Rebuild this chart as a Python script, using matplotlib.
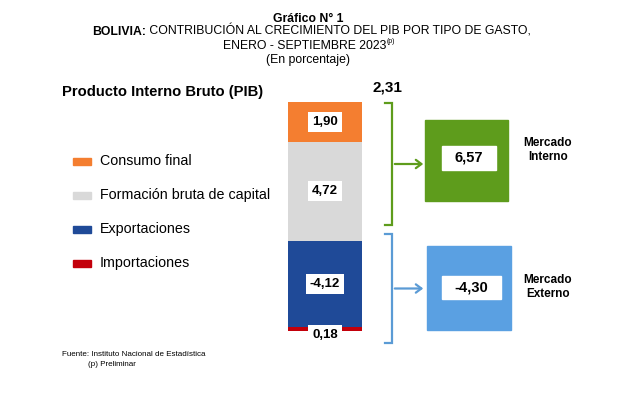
import matplotlib.pyplot as plt
from matplotlib.patches import Rectangle, FancyArrowPatch
import numpy as np

plt.rcParams['font.family'] = ['Liberation Sans', 'DejaVu Sans']

# data (contribution to GDP growth, %)
components = ["Importaciones", "Exportaciones", "Formación bruta de capital", "Consumo final"]
values = [0.18, -4.12, 4.72, 1.90]
colors = ["#C3000B", "#1F4A98", "#D9D9D9", "#F47E30"]
labels = ["0,18", "-4,12", "4,72", "1,90"]
pib_total = "2,31"
mercado_interno = "6,57"
mercado_externo = "-4,30"

W, H = 640, 395
fig = plt.figure(figsize=(W / 100, H / 100), dpi=100)

# overlay axes in pixel units for annotations
ov = fig.add_axes([0, 0, 1, 1])
ov.set_xlim(0, W)
ov.set_ylim(H, 0)
ov.axis("off")

# titles
tfs = 8.8
ov.text(308, 19, "Gráfico N° 1", ha="center", va="center", fontsize=tfs, fontweight="bold")
t1 = ov.text(92, 32, "BOLIVIA:", ha="left", va="center", fontsize=tfs, fontweight="bold")
ov.annotate(" CONTRIBUCIÓN AL CRECIMIENTO DEL PIB POR TIPO DE GASTO,", xy=(1, 0), xycoords=t1,
            ha="left", va="bottom", fontsize=tfs)
t3 = ov.text(305, 46, "ENERO - SEPTIEMBRE 2023", ha="center", va="center", fontsize=tfs)
ov.annotate("(p)", xy=(1, 0.55), xycoords=t3, ha="left", va="bottom", fontsize=5)
ov.text(308, 60, "(En porcentaje)", ha="center", va="center", fontsize=tfs)

ov.text(62, 92, "Producto Interno Bruto (PIB)", ha="left", va="center", fontsize=10.6, fontweight="bold")

# legend
leg_order = [3, 2, 1, 0]
for i, k in enumerate(leg_order):
    y = 161 + i * 34
    ov.add_patch(Rectangle((73, y - 3), 18, 7, color=colors[k]))
    ov.text(100, y, components[k], ha="left", va="center", fontsize=10.3)

# stacked bar
bx = fig.add_axes([288 / W, 1 - 331 / H, 74 / W, 229 / H])
mags = np.abs(values)
bottoms = np.concatenate([[0], np.cumsum(mags)[:-1]])
bx.bar(0, mags, bottom=bottoms, width=1, color=colors, edgecolor="none")
bx.set_xlim(-0.5, 0.5)
bx.set_ylim(0, mags.sum())
bx.axis("off")
box = dict(boxstyle="square,pad=0.3", fc="white", ec="none")
for v, b, lab in zip(mags, bottoms, labels):
    if v < 0.5:
        bx.annotate(lab, (0, b), xytext=(0, -3), textcoords="offset points",
                    ha="center", va="center", fontsize=9.5, fontweight="bold", bbox=box,
                    annotation_clip=False)
    else:
        bx.text(0, b + v / 2, lab, ha="center", va="center", fontsize=9.5,
                fontweight="bold", bbox=box)

ov.text(387, 88, pib_total, ha="center", va="center", fontsize=11, fontweight="bold")

# brackets and arrows
green = "#5E9C1C"
lblue = "#5B9BD5"
for (y0, y1, col) in [(103, 225, green), (234, 343, lblue)]:
    ov.plot([385, 392, 392, 385], [y0, y0, y1, y1], color=col, lw=1.6, solid_joinstyle="miter")
    ym = (y0 + y1) / 2
    ov.add_patch(FancyArrowPatch((392, ym), (426, ym), arrowstyle="->,head_length=4,head_width=3",
                                 color=col, lw=1.6, mutation_scale=1))

# market boxes
ov.add_patch(Rectangle((425, 120), 83, 81, color=green))
ov.add_patch(Rectangle((427, 246), 84, 84, color="#5AA0E2"))
ov.add_patch(Rectangle((442, 146), 54, 24, color="white"))
ov.add_patch(Rectangle((442, 276), 59, 23, color="white"))
ov.text(469, 158, mercado_interno, ha="center", va="center", fontsize=10.5, fontweight="bold")
ov.text(471, 287, mercado_externo, ha="center", va="center", fontsize=10.5, fontweight="bold")
ov.text(548, 150, "Mercado\nInterno", ha="center", va="center", fontsize=8.5, fontweight="bold",
        linespacing=1.25)
ov.text(548, 287, "Mercado\nExterno", ha="center", va="center", fontsize=8.5, fontweight="bold",
        linespacing=1.25)

# source
ov.text(62, 354, "Fuente: Instituto Nacional de Estadística", ha="left", va="center", fontsize=5.75)
ov.text(88, 364, "(p) Preliminar", ha="left", va="center", fontsize=5.75)

fig.savefig("out.png", dpi=100, facecolor="white")
